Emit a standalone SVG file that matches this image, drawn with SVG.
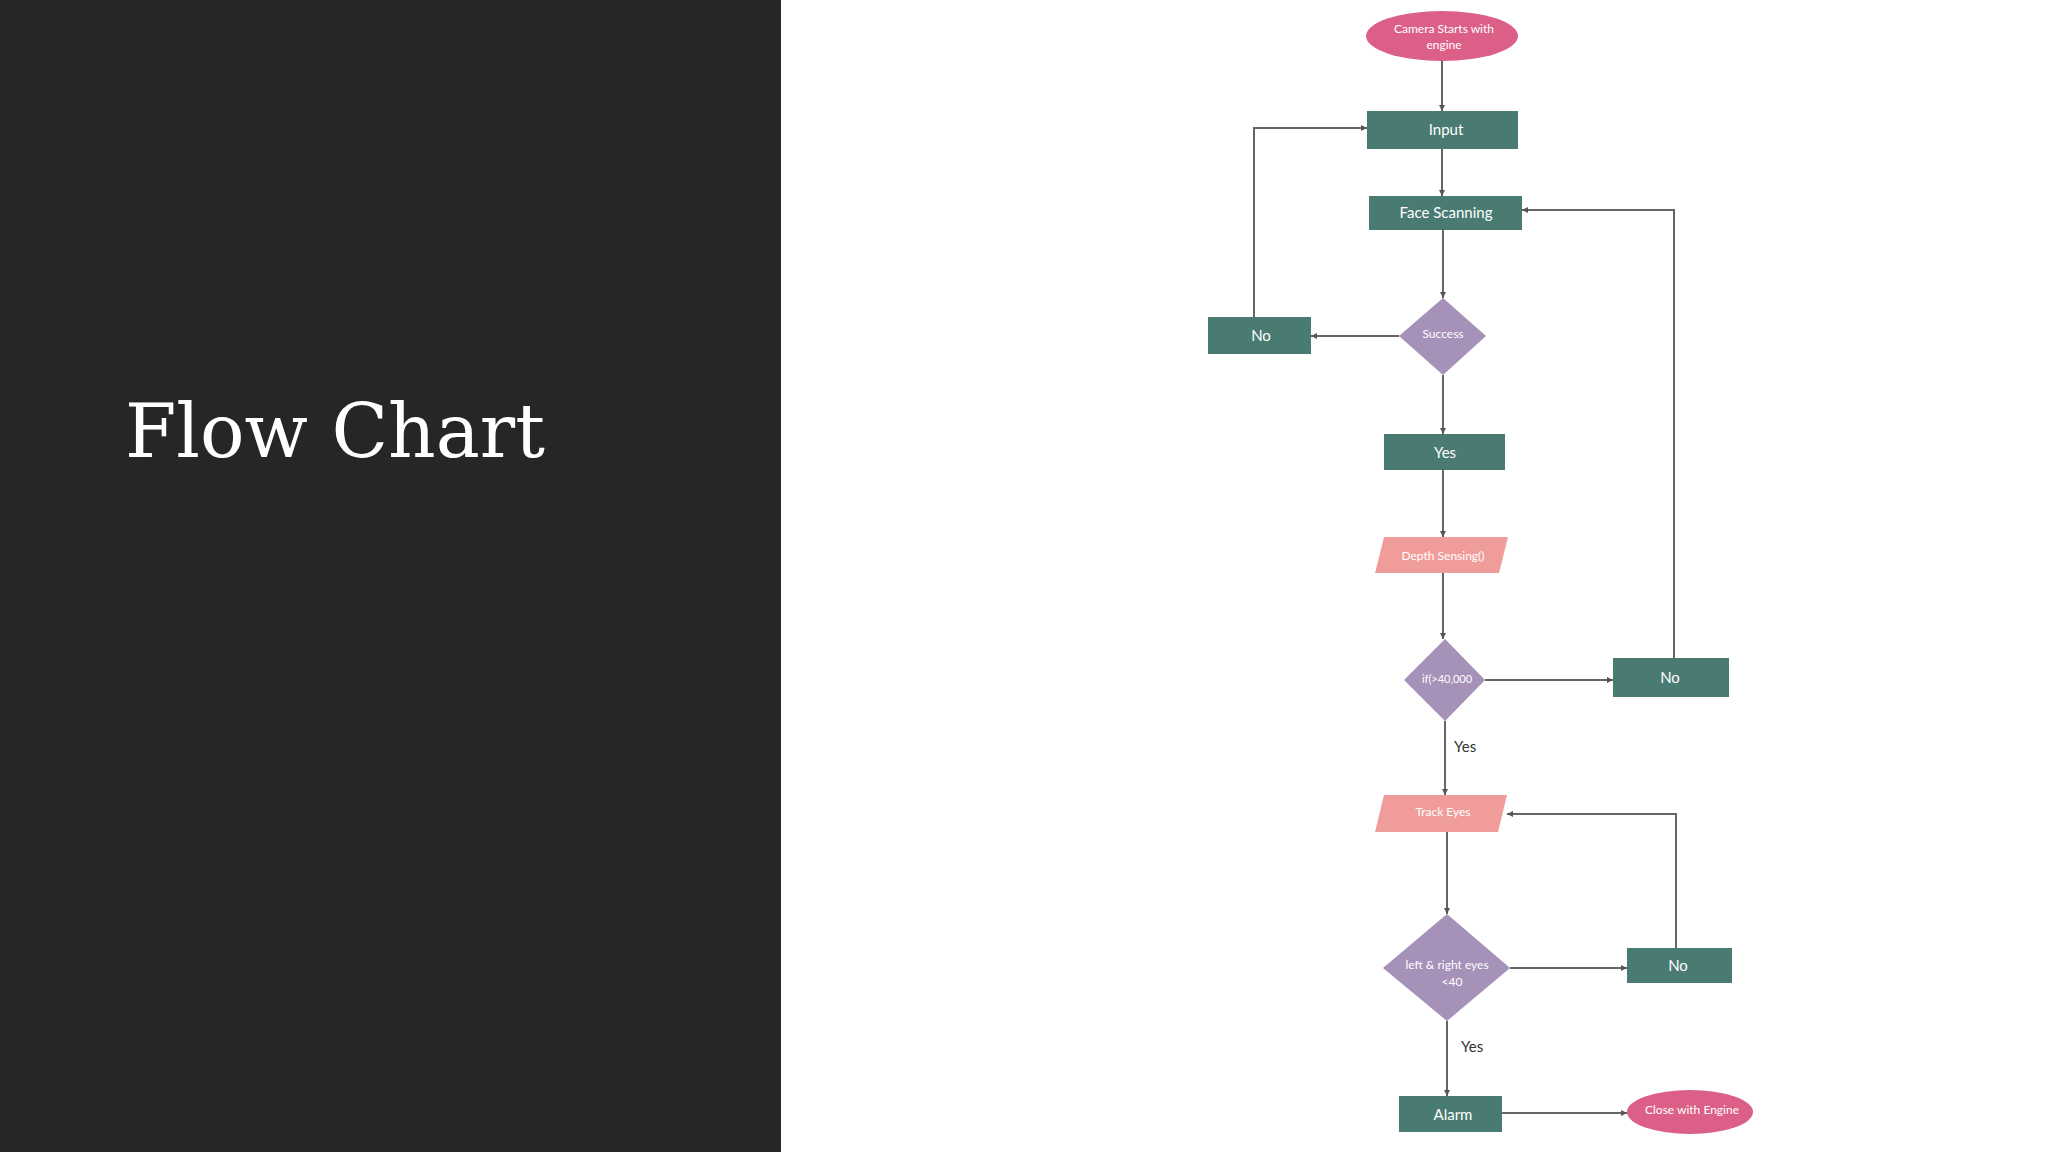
<svg xmlns="http://www.w3.org/2000/svg" width="2048" height="1152" viewBox="0 0 2048 1152">
<defs>
<marker id="ah" viewBox="0 0 10 10" refX="10" refY="5" markerWidth="6" markerHeight="6" orient="auto" markerUnits="userSpaceOnUse"><path d="M0,0 L10,5 L0,10 z" fill="#555"/></marker>
<style>
.box{fill:#4a7b72}
.term{fill:#db5f86}
.dec{fill:#a691b9}
.io{fill:#f09c9a}
.t{font-family:"Lato","Liberation Sans",sans-serif;font-size:15px;fill:#fff;text-anchor:middle}
.s{font-size:12px}
.lbl{font-family:"Lato","Liberation Sans",sans-serif;font-size:15px;fill:#333}
.c{fill:none;stroke:#666;stroke-width:2;marker-end:url(#ah)}
</style>
</defs>
<rect width="2048" height="1152" fill="#fff"/>
<rect width="781" height="1152" fill="#262626"/>
<text x="125" y="457" font-family="'DejaVu Serif','Liberation Serif',serif" font-size="74" fill="#fff">Flow Chart</text>
<g id="connectors">
<path class="c" d="M1442,61 L1442,111"/>
<path class="c" d="M1442,149 L1442,196"/>
<path class="c" d="M1443,230 L1443,298"/>
<path class="c" d="M1399,336 L1311,336"/>
<path class="c" d="M1254,317 L1254,128 L1367,128"/>
<path class="c" d="M1443,375 L1443,434"/>
<path class="c" d="M1443,470 L1443,537"/>
<path class="c" d="M1443,573 L1443,639"/>
<path class="c" d="M1485,680 L1613,680"/>
<path class="c" d="M1674,658 L1674,210 L1522,210"/>
<path class="c" d="M1445,721 L1445,795"/>
<path class="c" d="M1447,832 L1447,914"/>
<path class="c" d="M1510,968 L1627,968"/>
<path class="c" d="M1676,948 L1676,814 L1507,814"/>
<path class="c" d="M1447,1021 L1447,1096"/>
<path class="c" d="M1502,1113 L1627,1113"/>
</g>
<text class="lbl" x="1454" y="752">Yes</text>
<text class="lbl" x="1461" y="1052">Yes</text>
<g id="start"><ellipse class="term" cx="1442" cy="36" rx="76" ry="25"/><text class="t s" x="1444" y="33">Camera Starts with</text><text class="t s" x="1444" y="49">engine</text></g>
<g id="input"><rect class="box" x="1367" y="111" width="151" height="38"/><text class="t" x="1446" y="135">Input</text></g>
<g id="face"><rect class="box" x="1369" y="196" width="153" height="34"/><text class="t" x="1446" y="218">Face Scanning</text></g>
<g id="success"><path class="dec" d="M1443,298 L1486,336 L1443,375 L1399,336 z"/><text class="t s" x="1443" y="338">Success</text></g>
<g id="noLeft"><rect class="box" x="1208" y="317" width="103" height="37"/><text class="t" x="1261" y="341">No</text></g>
<g id="yes1"><rect class="box" x="1384" y="434" width="121" height="36"/><text class="t" x="1445" y="458">Yes</text></g>
<g id="depth"><path class="io" d="M1384,537 L1508,537 L1499,573 L1375,573 z"/><text class="t s" x="1443" y="560">Depth Sensing()</text></g>
<g id="cond1"><path class="dec" d="M1445,639 L1485,680 L1445,721 L1404,680 z"/><text class="t" style="font-size:11px" x="1447" y="683">if(>40,000</text></g>
<g id="noRight1"><rect class="box" x="1613" y="658" width="116" height="39"/><text class="t" x="1670" y="683">No</text></g>
<g id="track"><path class="io" d="M1384,795 L1507,795 L1498,832 L1375,832 z"/><text class="t s" x="1443" y="816">Track Eyes</text></g>
<g id="cond2"><path class="dec" d="M1447,914 L1510,968 L1447,1021 L1383,968 z"/><text class="t s" x="1447" y="969">left &amp; right eyes</text><text class="t s" x="1452" y="986">&lt;40</text></g>
<g id="noRight2"><rect class="box" x="1627" y="948" width="105" height="35"/><text class="t" x="1678" y="971">No</text></g>
<g id="alarm"><rect class="box" x="1399" y="1096" width="103" height="36"/><text class="t" x="1453" y="1120">Alarm</text></g>
<g id="close"><ellipse class="term" cx="1690" cy="1112" rx="63" ry="22"/><text class="t s" x="1692" y="1114">Close with Engine</text></g>
</svg>
